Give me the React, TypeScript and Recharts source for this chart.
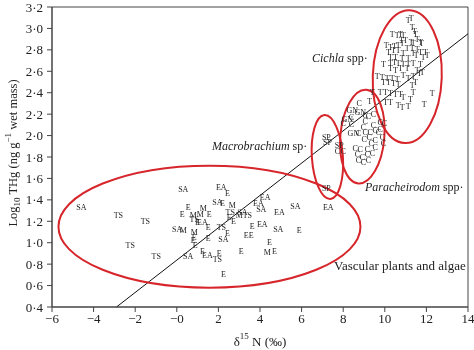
import React from 'react';
import { ScatterChart, Scatter, XAxis, YAxis, ReferenceLine, ReferenceDot, ReferenceArea, Customized } from 'recharts';

// Vascular plants and algae: [x, y, code]
const vascular: [number, number, string][] = [
  [-4.59, 1.33, 'SA'], [-2.81, 1.25, 'TS'], [-1.51, 1.2, 'TS'], [-2.24, 0.975, 'TS'], [-0.99, 0.87, 'TS'],
  [0.31, 1.5, 'SA'], [0.55, 1.33, 'E'], [1.27, 1.32, 'M'], [0.26, 1.26, 'E'], [0.79, 1.25, 'M'],
  [1.13, 1.26, 'M'], [1.56, 1.26, 'E'], [0.84, 1.22, 'TS'], [0.99, 1.19, 'E'], [1.23, 1.19, 'EA'],
  [1.51, 1.14, 'E'], [0.02, 1.12, 'SA'], [0.31, 1.11, 'M'], [0.84, 1.1, 'M'], [0.84, 1.05, 'E'],
  [0.79, 1.02, 'E'], [1.51, 1.04, 'E'], [0.89, 0.97, 'E'], [1.23, 0.92, 'E'], [0.55, 0.87, 'SA'],
  [1.47, 0.88, 'EA'], [1.95, 0.84, 'TS'], [1.95, 1.38, 'SA'], [2.19, 1.37, 'E'], [2.67, 1.35, 'M'],
  [2.14, 1.52, 'EA'], [2.43, 1.46, 'E'], [2.57, 1.28, 'TS'], [2.52, 1.24, 'E'], [3.15, 1.28, 'SA'],
  [3.01, 1.25, 'M'], [3.39, 1.25, 'TS'], [2.72, 1.2, 'E'], [2.14, 1.14, 'TS'], [2.43, 1.09, 'E'],
  [2.24, 1.03, 'SA'], [3.63, 1.15, 'E'], [4.11, 1.17, 'EA'], [3.34, 1.07, 'E'], [3.58, 1.07, 'E'],
  [4.88, 1.12, 'SA'], [5.89, 1.11, 'E'], [4.25, 1.42, 'EA'], [3.92, 1.37, 'EA'], [4.06, 1.31, 'SA'],
  [4.93, 1.28, 'EA'], [5.7, 1.34, 'SA'], [7.28, 1.33, 'EA'], [2.04, 0.9, 'E'], [3.1, 0.92, 'E'],
  [4.35, 0.91, 'M'], [4.69, 0.92, 'E'], [4.45, 1.0, 'E'], [2.24, 0.7, 'E'],
];

// Macrobrachium spp.
const macrobrachium: [number, number, string][] = [
  [7.19, 1.98, 'SP'], [7.24, 1.94, 'SP'], [7.81, 1.91, 'SP'], [7.19, 1.51, 'SP'],
];

// Paracheirodon spp.
const paracheirodon: [number, number, string][] = [
  [7.72, 1.85, 'C'], [8.0, 1.85, 'C'],
  [8.77, 2.3, 'C'], [8.44, 2.23, 'GN'], [8.82, 2.22, 'GN'], [9.06, 2.19, 'C'], [9.45, 2.2, 'C'],
  [8.2, 2.15, 'GN'], [8.0, 2.11, 'C'], [8.39, 2.1, 'C'], [8.39, 2.17, 'C'], [9.21, 2.18, 'C'],
  [9.06, 2.13, 'C'], [9.78, 2.12, 'C'], [9.98, 2.11, 'C'], [8.49, 2.02, 'GN'], [8.73, 2.02, 'C'],
  [9.06, 2.03, 'C'], [9.3, 2.03, 'C'], [9.54, 2.05, 'C'], [9.78, 2.06, 'C'], [9.88, 1.98, 'C'],
  [8.97, 2.08, 'C'], [9.45, 2.09, 'C'], [9.69, 2.03, 'C'], [9.01, 1.96, 'C'], [9.25, 1.98, 'C'],
  [9.35, 1.93, 'C'], [9.54, 1.95, 'C'], [9.93, 1.93, 'C'], [8.58, 1.88, 'C'], [8.82, 1.87, 'C'],
  [9.16, 1.87, 'C'], [9.54, 1.89, 'C'], [8.68, 1.82, 'C'], [8.92, 1.8, 'C'], [9.16, 1.82, 'C'],
  [9.4, 1.83, 'C'], [8.73, 1.77, 'C'], [8.97, 1.75, 'C'], [9.21, 1.77, 'C'],
];

// Cichla spp. (T)
const cichla: [number, number][] = [
  [11.13, 3.07], [11.27, 3.09], [11.32, 3.01], [11.42, 2.97], [11.47, 2.94], [11.56, 2.9], [11.71, 2.87], [11.76, 2.86],
  [10.36, 2.94], [10.6, 2.93], [10.75, 2.94], [10.89, 2.93], [10.8, 2.89], [10.99, 2.89], [11.27, 2.87], [11.37, 2.86],
  [10.07, 2.84], [10.27, 2.82], [10.46, 2.83], [10.65, 2.84], [10.84, 2.86], [11.08, 2.81], [11.32, 2.81], [11.56, 2.8],
  [11.71, 2.78], [11.95, 2.78], [10.17, 2.78], [10.41, 2.79], [10.65, 2.79], [10.89, 2.77], [11.37, 2.77], [11.51, 2.75],
  [11.85, 2.73], [12.04, 2.75], [10.27, 2.73], [10.51, 2.73], [10.84, 2.72], [11.13, 2.72],
  [9.93, 2.66], [10.27, 2.67], [10.46, 2.68], [10.65, 2.67], [10.89, 2.66], [11.13, 2.66], [11.37, 2.67], [11.71, 2.66],
  [10.27, 2.63], [10.51, 2.61], [10.75, 2.63], [11.08, 2.63], [11.56, 2.61], [11.8, 2.59],
  [9.64, 2.55], [9.88, 2.54], [10.12, 2.53], [10.36, 2.53], [10.6, 2.52], [10.89, 2.56], [11.37, 2.55], [11.66, 2.58],
  [9.93, 2.5], [10.17, 2.5], [10.41, 2.49], [10.65, 2.48], [11.13, 2.53], [11.32, 2.47], [11.47, 2.5],
  [9.4, 2.4], [9.78, 2.4], [10.03, 2.4], [10.27, 2.39], [10.51, 2.38], [10.75, 2.38], [10.89, 2.36], [11.37, 2.4], [12.28, 2.39],
  [10.03, 2.31], [10.27, 2.31], [10.65, 2.28], [10.84, 2.26], [11.13, 2.27], [11.23, 2.34], [11.9, 2.29], [9.27, 2.32],
];

const xTicks = [-6, -4, -2, 0, 2, 4, 6, 8, 10, 12, 14];
const yTicks = [0.4, 0.6, 0.8, 1.0, 1.2, 1.4, 1.6, 1.8, 2.0, 2.2, 2.4, 2.6, 2.8, 3.0, 3.2];

// Regression line endpoints
const regression = [{ x: -2.9, y: 0.4 }, { x: 14, y: 2.95 }];

// Group ellipses: centre in data units
const groupCentres = [
  { name: 'vascular', x: 1.57, y: 1.15 },
  { name: 'macro', x: 7.24, y: 1.8 },
  { name: 'para', x: 8.92, y: 1.99 },
  { name: 'cichla', x: 11.08, y: 2.55 },
];
const ellipseSize: Record<string, [number, number, number]> = {
  vascular: [151, 61, 0],
  macro: [15.5, 42, -4],
  para: [22, 47, 5],
  cichla: [34.5, 66.5, 2],
};

const RED = '#d7262b';
const SERIF = '"Liberation Serif", "DejaVu Serif", serif';
const INK = '#222';

const toPts = (arr: [number, number, string][]) => arr.map(([x, y, s]) => ({ x, y, s }));

const labelShape = (p: any) => (
  <text
    x={p.cx}
    y={p.cy}
    textAnchor="middle"
    dominantBaseline="central"
    fontSize={8}
    fontFamily={SERIF}
    fill={INK}
  >
    {p.payload.s}
  </text>
);

const makeEllipse = (key: string) => (p: any) => {
  const [rx, ry, rot] = ellipseSize[key];
  return (
    <ellipse cx={p.cx} cy={p.cy} rx={rx} ry={ry} transform={`rotate(${rot} ${p.cx} ${p.cy})`} fill="none" stroke={RED} strokeWidth={2} />
  );
};

const fmtX = (v: number) => (v < 0 ? '\u2212' + Math.abs(v) : v === 0 ? '\u22120' : String(v));
const fmtY = (v: number) => v.toFixed(1).replace('.', '\u00b7');

const Annotations = () => (
  <g fontFamily={SERIF} fill={INK}>
    <text x={312} y={62} fontSize={12}>
      <tspan fontStyle="italic">Cichla</tspan> spp·
    </text>
    <text x={212} y={150} fontSize={12}>
      <tspan fontStyle="italic">Macrobrachium</tspan> sp·
    </text>
    <text x={365} y={191} fontSize={12}>
      <tspan fontStyle="italic">Paracheirodom</tspan> spp·
    </text>
    <text x={334} y={270} fontSize={13}>Vascular plants and algae</text>
    <text x={260} y={341} fontSize={13} textAnchor="middle" dominantBaseline="central">
      δ<tspan fontSize={9} dy={-5}>15</tspan><tspan dy={5}> N (‰)</tspan>
    </text>
    <text transform="translate(13,153) rotate(-90)" fontSize={12.5} textAnchor="middle" dominantBaseline="central">
      Log<tspan fontSize={9} dy={4}>10</tspan><tspan dy={-4}> THg (ng g</tspan><tspan fontSize={9} dy={-5}>−1</tspan><tspan dy={5}> wet mass)</tspan>
    </text>
  </g>
);

export default function App() {
  return (
    <div style={{ position: 'absolute', left: 0, top: 0, width: 474, height: 350, background: '#fff' }}>
      <div style={{ width: 474, height: 350, willChange: 'transform', WebkitFontSmoothing: 'antialiased' } as any}>
        <ScatterChart width={474} height={350} margin={{ top: 7, right: 6, bottom: 13, left: 12 }}>
          <XAxis
            type="number"
            dataKey="x"
            domain={[-6, 14]}
            ticks={xTicks}
            tickFormatter={fmtX}
            height={30}
            tickSize={5}
            axisLine={{ stroke: '#444' }}
            tickLine={{ stroke: '#444' }}
            tick={{ fontSize: 13, fill: INK, fontFamily: SERIF }}
            interval={0}
          />
          <YAxis
            type="number"
            dataKey="y"
            domain={[0.4, 3.2]}
            ticks={yTicks}
            tickFormatter={fmtY}
            width={40}
            tickSize={5}
            tickMargin={4}
            axisLine={{ stroke: '#444' }}
            tickLine={{ stroke: '#444' }}
            tick={{ fontSize: 13, fill: INK, fontFamily: SERIF }}
            interval={0}
          />
          <ReferenceArea x1={-6} x2={14} y1={0.4} y2={3.2} fill="none" stroke="#444" strokeWidth={1} fillOpacity={0} />
          <ReferenceLine segment={regression} stroke="#111" strokeWidth={1} />
          {groupCentres.map((g) => (
            <ReferenceDot key={g.name} x={g.x} y={g.y} r={1} shape={makeEllipse(g.name)} />
          ))}
          <Scatter data={toPts(vascular)} shape={labelShape} isAnimationActive={false} />
          <Scatter data={toPts(macrobrachium)} shape={labelShape} isAnimationActive={false} />
          <Scatter data={toPts(paracheirodon)} shape={labelShape} isAnimationActive={false} />
          <Scatter data={cichla.map(([x, y]) => ({ x, y, s: 'T' }))} shape={labelShape} isAnimationActive={false} />
          <Customized component={<Annotations />} />
        </ScatterChart>
      </div>
    </div>
  );
}
